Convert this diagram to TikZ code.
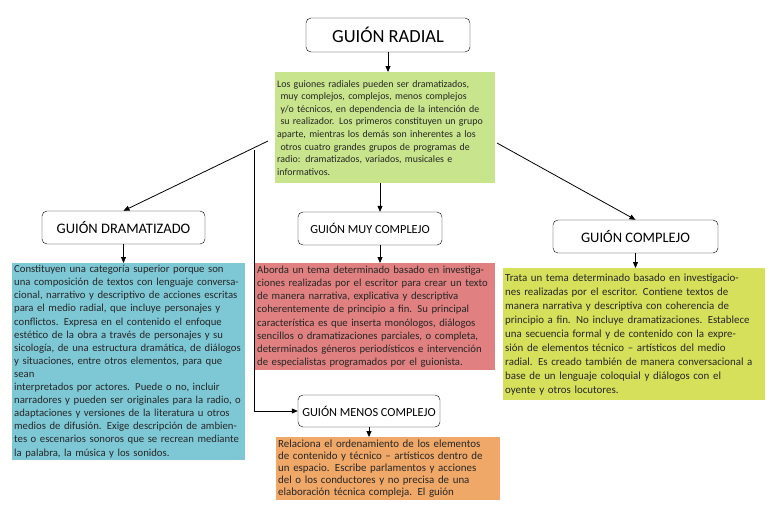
\documentclass[tikz,border=0pt]{standalone}
\usepackage{fontspec}
\setmainfont{Carlito}
\usetikzlibrary{arrows.meta}
\begin{document}
\begin{tikzpicture}[x=1pt,y=-1pt,
  hdr/.style={draw,rounded corners=5pt,fill=white,inner sep=0pt,font=\fontsize{14.5}{16}\selectfont},
  txt/.style={anchor=north west,inner xsep=2pt,inner ysep=2pt,align=left,text=black!85},
  arr/.style={-{Triangle[length=6pt,width=5pt]},line width=0.8pt}]
\useasboundingbox (0,0) rectangle (778,517);
\node[hdr,minimum width=164pt,minimum height=34pt,font=\fontsize{18.5}{20}\selectfont] (t) at (388,35) {GUIÓN RADIAL};
\node[txt,fill={rgb,255:red,200;green,228;blue,140},text width=216pt,minimum height=111pt,font=\fontsize{9.9}{12.6}\selectfont] (g) at (275,72) {Los guiones radiales pueden ser dramatizados,\\\ muy complejos, complejos, menos complejos\\\ y/o técnicos, en dependencia de la intención de\\\ su realizador. Los primeros constituyen un grupo\\aparte, mientras los demás son inherentes a los\\\ otros cuatro grandes grupos de programas de\\radio: dramatizados, variados, musicales e\\informativos.};
\node[hdr,minimum width=163pt,minimum height=33pt] (hd) at (123.5,227.5) {GUIÓN DRAMATIZADO};
\node[hdr,minimum width=144pt,minimum height=33pt,font=\fontsize{12.3}{14}\selectfont] (hm) at (370,228.5) {GUIÓN MUY COMPLEJO};
\node[hdr,minimum width=165pt,minimum height=33pt] (hc) at (635.5,236.5) {GUIÓN COMPLEJO};
\node[hdr,minimum width=142pt,minimum height=32pt,font=\fontsize{12.3}{14}\selectfont] (hl) at (369,411) {GUIÓN MENOS COMPLEJO};
\node[txt,fill={rgb,255:red,126;green,200;blue,214},text width=229pt,minimum height=184pt,font=\fontsize{10.7}{13.1}\selectfont] (bd) at (12,263) {Constituyen una categoría superior porque son\\una composición de textos con lenguaje conversa-\\cional, narrativo y descriptivo de acciones escritas\\para el medio radial, que incluye personajes y\\conflictos. Expresa en el contenido el enfoque\\estético de la obra a través de personajes y su\\sicología, de una estructura dramática, de diálogos\\y situaciones, entre otros elementos, para que sean\\interpretados por actores. Puede o no, incluir\\narradores y pueden ser originales para la radio, o\\adaptaciones y versiones de la literatura u otros\\medios de difusión. Exige descripción de ambien-\\tes o escenarios sonoros que se recrean mediante\\la palabra, la música y los sonidos.};
\node[txt,fill={rgb,255:red,224;green,128;blue,128},text width=236pt,minimum height=107pt,font=\fontsize{10.7}{13.1}\selectfont] (bm) at (255,263) {Aborda un tema determinado basado en investiga-\\ciones realizadas por el escritor para crear un texto\\de manera narrativa, explicativa y descriptiva\\coherentemente de principio a fin. Su principal\\característica es que inserta monólogos, diálogos\\sencillos o dramatizaciones parciales, o completa,\\determinados géneros periodísticos e intervención\\de especialistas programados por el guionista.};
\node[txt,fill={rgb,255:red,214;green,224;blue,90},text width=258pt,minimum height=132pt,font=\fontsize{10.9}{14}\selectfont] (bc) at (503,268) {Trata un tema determinado basado en investigacio-\\nes realizadas por el escritor. Contiene textos de\\manera narrativa y descriptiva con coherencia de\\principio a fin. No incluye dramatizaciones. Establece\\una secuencia formal y de contenido con la expre-\\sión de elementos técnico – artísticos del medio\\radial. Es creado también de manera conversacional a\\base de un lenguaje coloquial y diálogos con el\\oyente y otros locutores.};
\node[txt,fill={rgb,255:red,240;green,168;blue,104},text width=220pt,minimum height=63pt,font=\fontsize{10.9}{11.9}\selectfont] (bl) at (276,437) {Relaciona el ordenamiento de los elementos\\de contenido y técnico – artísticos dentro de\\un espacio. Escribe parlamentos y acciones\\del o los conductores y no precisa de una\\elaboración técnica compleja. El guión};
\coordinate (v1) at (254,150);
\coordinate (v2) at (254,411);
\draw[arr] (t.south) -- (g.north -| t.south);
\draw[arr] (268,141) -- (hd.north);
\draw[arr] (380,183) -- (hm.north -| 380,0);
\draw[arr] (497,143) -- (hc.north);
\draw[line width=0.8pt] (v1) -- (v2);
\draw[arr] (v2) -- (hl.west);
\draw[arr] (hd.south) -- (bd.north -| hd.south);
\draw[arr] (hm.south -| 380,0) -- (bm.north -| 380,0);
\draw[arr] (hc.south) -- (bc.north -| hc.south);
\draw[arr] (hl.south) -- (bl.north -| hl.south);
\end{tikzpicture}
\end{document}
